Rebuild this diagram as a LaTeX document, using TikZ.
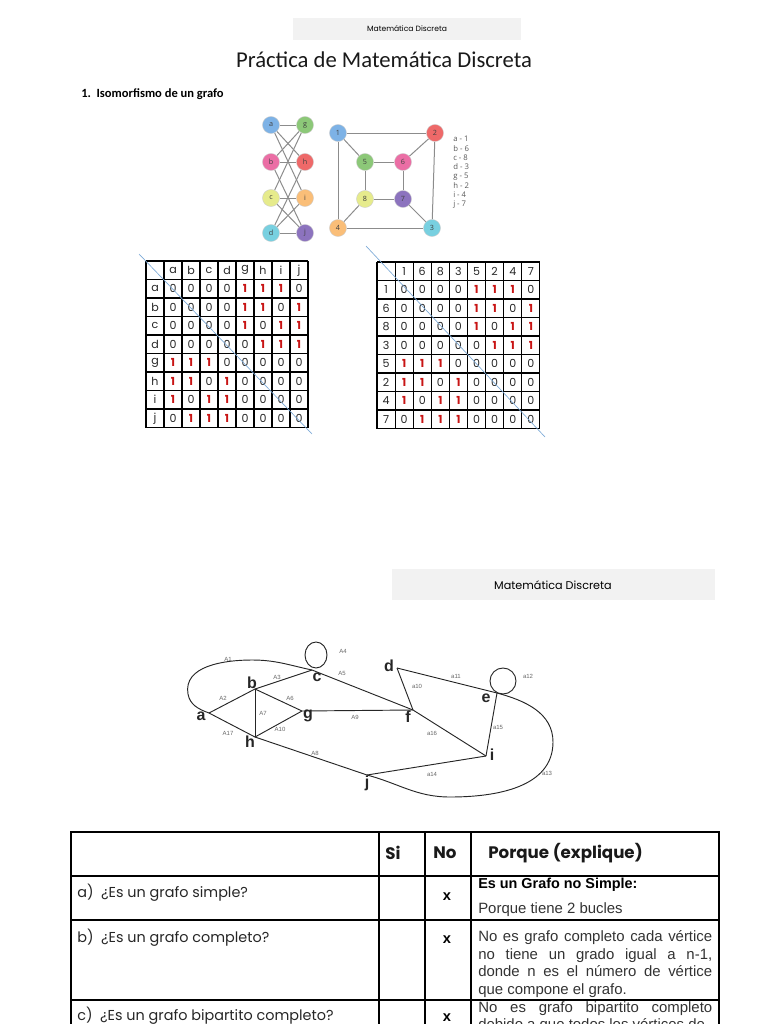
\documentclass[tikz,border=0pt]{standalone}
\usepackage{fontspec}
\usetikzlibrary{backgrounds}
\setmainfont{Liberation Sans}
\newfontfamily\geo{Poppins}
\newfontfamily\carl{Carlito}
\newfontfamily\oss{Open Sans}
\hyphenpenalty=10000
\exhyphenpenalty=10000
\definecolor{diagblue}{RGB}{125,170,215}
\definecolor{hdrgray}{RGB}{242,242,242}
\definecolor{cA}{RGB}{125,178,230}
\definecolor{cG}{RGB}{140,200,120}
\definecolor{cB}{RGB}{235,110,165}
\definecolor{cH}{RGB}{238,105,105}
\definecolor{cC}{RGB}{230,235,140}
\definecolor{cI}{RGB}{250,190,120}
\definecolor{cD}{RGB}{120,208,224}
\definecolor{cJ}{RGB}{140,115,190}
\definecolor{onered}{RGB}{200,20,20}
\newcommand{\adjmat}[5]{%
  \foreach \k in {0,...,9}{
    \draw[mline] ({#2+\k*#4},#3) -- ({#2+\k*#4},{#3+9*18.5});
    \draw[mline] (#2,{#3+\k*18.5}) -- ({#2+9*#4},{#3+\k*18.5});
  }
  \foreach \lab [count=\c] in {#5}{
    \node[cell] (#1-h\c) at ({#2+(\c+0.5)*#4},{#3+9.25}) {\lab};
    \node[cell] (#1-r\c) at ({#2+0.5*#4},{#3+(\c+0.5)*18.5}) {\lab};
  }
  \foreach \vals [count=\r] in {{0,0,0,0,1,1,1,0},{0,0,0,0,1,1,0,1},{0,0,0,0,1,0,1,1},{0,0,0,0,0,1,1,1},{1,1,1,0,0,0,0,0},{1,1,0,1,0,0,0,0},{1,0,1,1,0,0,0,0},{0,1,1,1,0,0,0,0}}{
    \foreach \v [count=\c] in \vals {
      \node[cell,bit\v] (#1-\r-\c) at ({#2+(\c+0.5)*#4},{#3+(\r+0.5)*18.5}) {\v};
    }
  }
}
\begin{document}
\begin{tikzpicture}[x=0.75pt,y=-0.75pt,
  hdrbox/.style={fill=hdrgray,draw=none},
  vtx/.style={circle,minimum size=12.8pt,inner sep=0pt,draw=white!80!black,line width=0.3pt,font=\oss\fontsize{5.4}{6}\selectfont,text=black!75},
  gedge/.style={draw=black!45,line width=0.75pt},
  mline/.style={draw=black,line width=0.8pt},
  cell/.style={inner sep=0pt,font=\geo\fontsize{8.3}{9}\selectfont,text=black!85},
  bit0/.style={},
  bit1/.style={text=onered,font=\geo\bfseries\fontsize{8.3}{9}\selectfont},
  diag/.style={draw=diagblue,line width=0.5pt},
  gline/.style={draw=black!85,line width=0.7pt},
  vlab/.style={inner sep=0pt,font=\bfseries\fontsize{12}{13}\selectfont,text=black!85},
  elab/.style={inner sep=0pt,font=\fontsize{4.5}{5}\selectfont,text=black!60},
  tline/.style={draw=black,line width=0.9pt},
  qtext/.style={inner sep=0pt,anchor=west,font=\geo\fontsize{10.8}{12}\selectfont,text=black!85},
  thead/.style={inner sep=0pt,anchor=west,font=\geo\bfseries\fontsize{12.5}{14}\selectfont,text=black!90},
  xmark/.style={inner sep=0pt,font=\bfseries\fontsize{11}{12}\selectfont},
  ansl/.style={inner sep=0pt,font=\fontsize{11.2}{13.3}\selectfont,text=black!80}
]
\useasboundingbox (0,0) rectangle (768,1024);
\clip (0,0) rectangle (768,1024);
% ---------- page 1 header ----------
\fill[hdrbox] (293,18) rectangle (521,40);
\node[inner sep=0pt,font=\geo\fontsize{5.7}{6}\selectfont] (hdr1) at (407,29) {Matemática Discreta};
\node[inner sep=0pt,font=\carl\fontsize{17}{19}\selectfont,text=black!90] (title) at (384,60) {Práctica de Matemática Discreta};
\node[inner sep=0pt,anchor=west,font=\carl\bfseries\fontsize{9.4}{11}\selectfont] (sec1) at (81,94) {1.\ \ Isomorfismo de un grafo};
% ---------- bipartite graph ----------
\node[vtx,fill=cA] (a) at (271,125) {a};
\node[vtx,fill=cG] (g) at (305,125) {g};
\node[vtx,fill=cB] (b) at (271,162) {b};
\node[vtx,fill=cH] (h) at (305,162) {h};
\node[vtx,fill=cC] (c) at (271,198) {c};
\node[vtx,fill=cI] (i) at (305,198) {i};
\node[vtx,fill=cD] (d) at (271,233) {d};
\node[vtx,fill=cJ] (j) at (305,233) {j};
% ---------- cube graph ----------
\node[vtx,fill=cA] (n1) at (338,133) {1};
\node[vtx,fill=cH] (n2) at (435,133) {2};
\node[vtx,fill=cG] (n5) at (365,162) {5};
\node[vtx,fill=cB] (n6) at (403,162) {6};
\node[vtx,fill=cC] (n8) at (365,199) {8};
\node[vtx,fill=cJ] (n7) at (403,199) {7};
\node[vtx,fill=cI] (n4) at (338,228) {4};
\node[vtx,fill=cD] (n3) at (432,228) {3};
\begin{scope}[on background layer]
\foreach \u/\w in {a/g,a/h,a/i,b/g,b/h,b/j,c/g,c/i,c/j,d/h,d/i,d/j}{
  \draw[gedge] (\u) -- (\w);
}
\foreach \u/\w in {n1/n2,n1/n5,n1/n4,n2/n6,n2/n3,n5/n6,n5/n8,n6/n7,n8/n7,n8/n4,n4/n3,n7/n3}{
  \draw[gedge] (\u) -- (\w);
}
\end{scope}
\foreach \t [count=\k] in {a - 1,b - 6,c - 8,d - 3,g - 5,h - 2,i - 4,j - 7}{
  \node[inner sep=0pt,anchor=west,font=\oss\fontsize{5.8}{6}\selectfont,text=black!65] (leg\k) at (453,{139+(\k-1)*9.3}) {\t};
}
% ---------- matrices ----------
\adjmat{L}{146}{261}{18}{a,b,c,d,g,h,i,j}
\adjmat{R}{377}{262}{18.1}{1,6,8,3,5,2,4,7}
\coordinate (dl1) at (139,254);
\coordinate (dl2) at (312,434);
\coordinate (dr1) at (366,246);
\coordinate (dr2) at (545,437);
\draw[diag] (dl1) -- (dl2);
\draw[diag] (dr1) -- (dr2);
% ---------- page 2 header ----------
\fill[hdrbox] (392,569) rectangle (715,600);
\node[inner sep=0pt,font=\geo\fontsize{8.4}{9}\selectfont] (hdr2) at (553,585) {Matemática Discreta};
% ---------- multigraph ----------
\coordinate (va) at (209,713);
\coordinate (vb) at (255,689);
\coordinate (vc) at (312,670);
\coordinate (vg) at (302,711);
\coordinate (vh) at (255,737);
\coordinate (vj) at (367,775);
\coordinate (vd) at (397,668);
\coordinate (vf) at (413,710);
\coordinate (ve) at (497,693);
\coordinate (vi) at (486,756);
\coordinate (lf1) at (188,694);
\coordinate (top1) at (252,660);
\coordinate (rt13) at (553,742);
\coordinate (bt13) at (450,797);
\draw[gline] (va) to[out=160,in=-80] (lf1) to[out=100,in=180] (top1) to[out=0,in=168] (vc);
\draw[gline] (316,655) ellipse [x radius=11,y radius=13];
\draw[gline] (503,681) circle [radius=13];
\draw[gline] (ve) to[out=-15,in=90] (rt13) to[out=-90,in=0] (bt13) to[out=180,in=-15] (vj);
\foreach \u/\w in {va/vb,vb/vc,vc/vf,vb/vg,vb/vh,vh/vj,vg/vf,vh/vg,va/vh,vd/vf,vd/ve,ve/vi,vf/vi,vj/vi}{
  \draw[gline] (\u) -- (\w);
}
\node[vlab] (la) at (201,716) {a};
\node[vlab] (lb) at (252,683) {b};
\node[vlab] (lc) at (317,677) {c};
\node[vlab] (lg) at (308,716) {g};
\node[vlab] (lh) at (250,742) {h};
\node[vlab] (lj) at (367,783) {j};
\node[vlab] (ld) at (389,666) {d};
\node[vlab] (lf) at (408,717) {f};
\node[vlab] (le) at (486,698) {e};
\node[vlab] (li) at (492,755) {i};
\foreach \t/\x/\y in {A1/228/659,A2/223/698,A3/277/677,A4/343/651,A5/342/673,A6/290/698,A7/263/713,A8/315/753,A9/355/717,A10/280/729,A17/228/733,a10/417/686,a11/456/676,a12/528/676,a13/547/773,a14/432/774,a15/498/727,a16/432/733}{
  \node[elab] (e\t) at (\x,\y) {\t};
}
% ---------- table ----------
\draw[tline] (71,1040) -- (71,832) -- (719,832) -- (719,1040);
\foreach \xx in {379,425,471}{ \draw[tline] (\xx,832) -- (\xx,1040); }
\foreach \yy in {876,920,1000}{ \draw[tline] (71,\yy) -- (719,\yy); }
\node[thead] (tsi) at (385,853) {Si};
\node[thead] (tno) at (433,853) {No};
\node[thead] (tpq) at (488,853) {Porque (explique)};
\node[qtext] (qa) at (77,893) {a)\ \ ¿Es un grafo simple?};
\node[qtext] (qb) at (77,938) {b)\ \ ¿Es un grafo completo?};
\node[qtext] (qc) at (77,1016) {c)\ \ ¿Es un grafo bipartito completo?};
\node[xmark] (xa) at (447,897) {x};
\node[xmark] (xb) at (447,940) {x};
\node[xmark] (xc) at (447,1018) {x};
\node[inner sep=0pt,anchor=west,font=\bfseries\fontsize{10.8}{12}\selectfont] (ra1) at (478,885) {Es un Grafo no Simple:};
\node[ansl,anchor=west] (ra2) at (478,910) {Porque tiene 2 bucles};
\node[ansl,anchor=north west,text width=175.5pt,align=justify] (rb) at (478,930) {No es grafo completo cada vértice\linebreak no tiene un grado igual a n-1,\linebreak donde n es el número de vértice\linebreak que compone el grafo.};
\node[ansl,anchor=north west,text width=175.5pt,align=justify] (rc) at (478,1001) {No es grafo bipartito completo\linebreak debido a que todos los vértices de};
\end{tikzpicture}
\end{document}
